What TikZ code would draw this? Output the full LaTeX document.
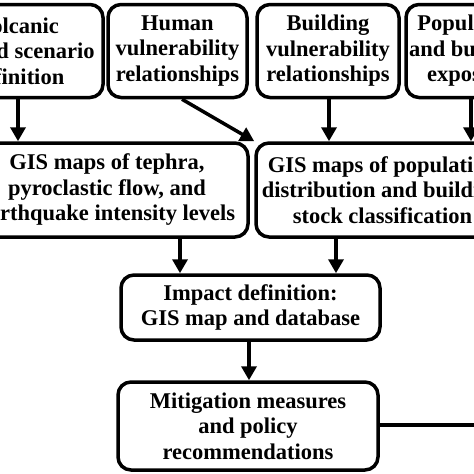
\documentclass[tikz,border=0pt]{standalone}
\usepackage{fontspec}
\setmainfont{Liberation Serif}
\usetikzlibrary{arrows.meta}

\begin{document}
\begin{tikzpicture}[
  x=1pt, y=-1pt,
  box/.style={rectangle, rounded corners=13pt, draw=black, line width=3.5pt, align=center, inner sep=0pt, font=\fontsize{22.5}{25.5}\selectfont\bfseries},
  arrow/.style={-{Triangle[length=14pt,width=15pt]}, line width=3.5pt}
]
\useasboundingbox (0,0) rectangle (474,474);

\node[box, minimum width=170pt, minimum height=93pt] (hazard) at (18,51) {Volcanic\\hazard scenario\\definition};
\node[box, minimum width=139pt, minimum height=93pt] (human) at (177.5,51) {Human\\vulnerability\\relationships};
\node[box, minimum width=142pt, minimum height=93pt] (building) at (328,51) {Building\\vulnerability\\relationships};
\node[box, minimum width=128pt, minimum height=93pt] (exposure) at (470,51) {Population\\and building\\exposure};

\node[box, minimum width=282pt, minimum height=94pt] (hazmaps) at (107,190) {GIS maps of tephra,\\pyroclastic flow, and\\earthquake intensity levels};
\node[box, minimum width=253pt, minimum height=94pt] (popmaps) at (382.5,190) {GIS maps of population\\distribution and building\\stock classification};

\node[box, minimum width=259pt, minimum height=65pt] (impact) at (250.5,307.5) {Impact definition:\\GIS map and database};
\node[box, minimum width=260pt, minimum height=88pt] (mitigation) at (248,426) {Mitigation measures\\and policy\\recommendations};

\coordinate (out) at (510,425);

\draw[arrow] (hazard.south) -- (hazard.south |- hazmaps.north);
\draw[arrow] ([xshift=4.5pt]human.south) -- (popmaps.north west);
\draw[arrow] ([xshift=1pt]building.south) -- ([xshift=1pt]building.south |- popmaps.north);
\draw[arrow] ([xshift=1pt]exposure.south) -- ([xshift=1pt]exposure.south |- popmaps.north);

\draw[arrow] ([xshift=-70.5pt]impact.north |- hazmaps.south) -- ([xshift=-70.5pt]impact.north);
\draw[arrow] ([xshift=85.5pt]impact.north |- popmaps.south) -- ([xshift=85.5pt]impact.north);
\draw[arrow] ([xshift=-1.5pt]impact.south) -- ([xshift=-1.5pt]impact.south |- mitigation.north);

\draw[line width=3.5pt] (mitigation.east |- out) -- (out);

\end{tikzpicture}
\end{document}
